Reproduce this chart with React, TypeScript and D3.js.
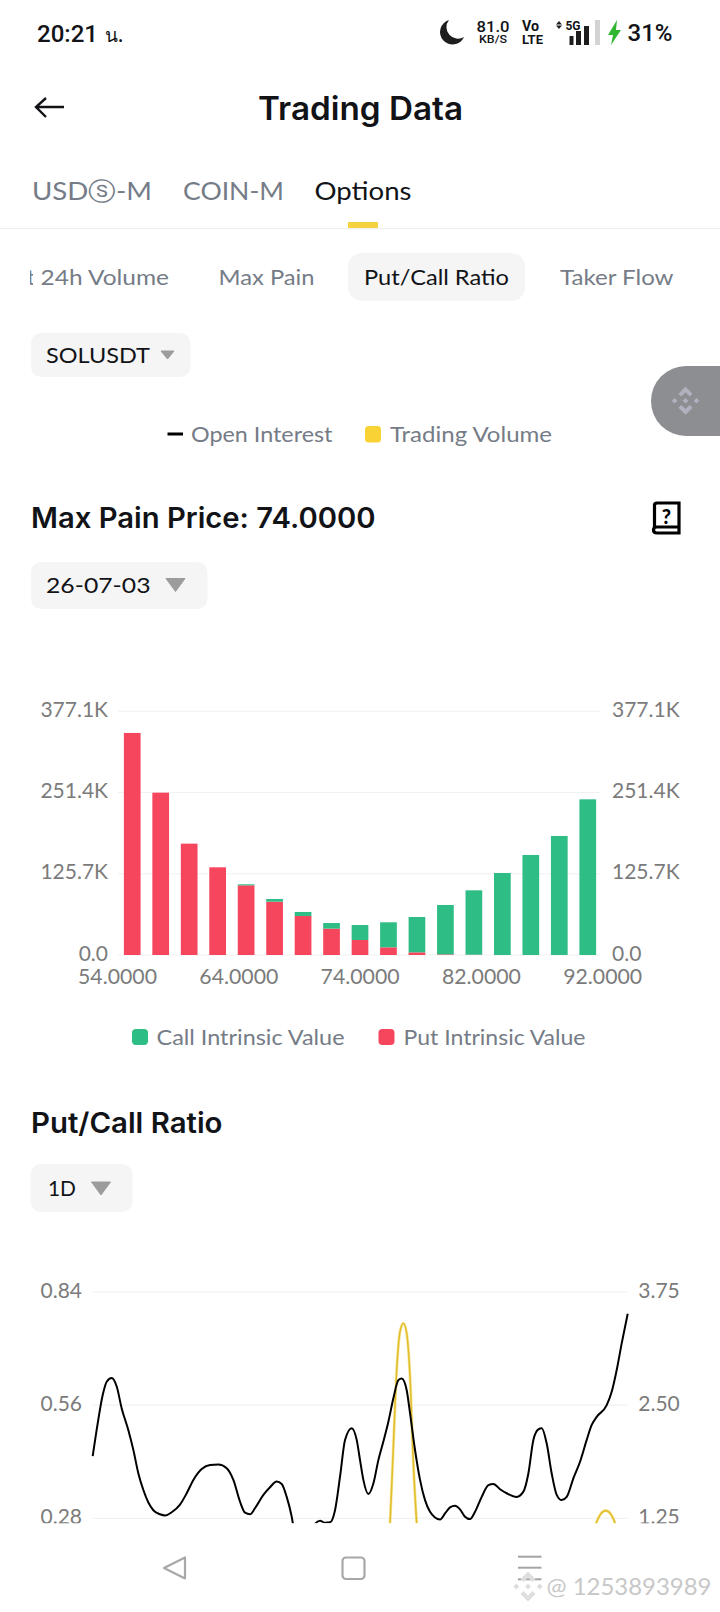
import React from "react";
import * as d3 from "d3";

const strikes = [54, 56, 58, 60, 64, 66, 68, 70, 74, 76, 78, 80, 82, 84, 86, 88, 92];
const putValues = [343.6, 251.2, 172.3, 135.7, 107.8, 82.5, 60.4, 40.8, 23.2, 11.9, 4.1, 1.0, 0.5, 0, 0, 0, 0];
const callValues = [0, 0, 0, 0, 1.6, 4.2, 6.2, 8.7, 23.2, 38.7, 54.7, 76.4, 99.6, 126.9, 154.8, 184.2, 240.9];
const xTickLabels = ["54.0000", "64.0000", "74.0000", "82.0000", "92.0000"];
const yTicksK = [0, 125.7, 251.4, 377.1];
const yTickLabelsK = ["0.0", "125.7K", "251.4K", "377.1K"];

const ratioTime = [0,15,30,42,57,72,87,107,122,137,152,167,182,202,217,237,262,282,302,327,352,377,402,422,442,457,472,487,512,532,552,567,582,597,607,622,642,667,682,697,712,727,742,757,777,792,802,812,827,842,857,872,887,902,917,927,942,952,967,982,997,1012,1027,1042,1057,1072,1087,1102,1117,1132,1147,1167,1187,1202,1222,1242,1272,1292,1307,1322,1337,1347,1362,1377,1392,1407,1422,1442,1462,1482,1497,1512,1542,1557,1572,1587,1605];
const ratioValues = [.434,.515,.585,.618,.627,.606,.552,.498,.449,.391,.350,.319,.300,.290,.287,.295,.314,.342,.375,.402,.412,.413,.404,.375,.321,.294,.290,.305,.338,.357,.371,.365,.333,.284,.234,.185,.193,.266,.274,.269,.270,.300,.383,.474,.503,.474,.424,.375,.340,.366,.424,.470,.519,.577,.622,.626,.597,.540,.449,.375,.325,.296,.282,.277,.292,.307,.311,.302,.284,.278,.296,.333,.362,.365,.352,.342,.333,.346,.391,.474,.500,.503,.465,.391,.338,.325,.333,.379,.420,.474,.511,.531,.560,.593,.647,.713,.786];
const volumeTime = [0,862,877,892,902,912,922,932,942,952,962,972,987,1002,1482,1510,1524,1539,1554,1567,1592,1605];
const volumeValues = [0,0,.495,1.195,2.042,2.888,3.312,3.404,3.293,2.815,1.857,1.195,.495,0,.8,1.195,1.298,1.335,1.298,1.195,.8,.5];
const ratioTicks = [0.28, 0.56, 0.84];
const ratioTickLabels = ["0.28", "0.56", "0.84"];
const volumeTicks = [1.25, 2.5, 3.75];
const volumeTickLabels = ["1.25", "2.50", "3.75"];

const GREEN = "#2EBD85";
const RED = "#F6465D";
const YELLOW = "#F0CE3C";
const GREY = "#757C87";
const AXIS = "#7B7B7B";
const INK = "#111317";
const PILL = "#F5F5F5";
const FONT = "Lato, 'Noto Sans', sans-serif";
const HEAD = "Inter, Lato, sans-serif";

type TP = { x: number; y: number; s: number; w?: number; c?: string; a?: string; len?: number; f?: string; children: React.ReactNode };
const T = ({ x, y, s, w = 400, c = INK, a = "start", len, f = FONT, children }: TP) => (
  <text x={x} y={y} fontSize={s} fontWeight={w} fill={c} textAnchor={a as any} fontFamily={f}
    {...(len ? { textLength: len, lengthAdjust: "spacingAndGlyphs" } : {})}>{children}</text>
);

const Tri = ({ x0, x1, y0, y1 }: { x0: number; x1: number; y0: number; y1: number }) => (
  <path d={`M${x0} ${y0}H${x1}L${(x0 + x1) / 2} ${y1}Z`} fill="#9C9C9C" stroke="#9C9C9C" strokeWidth={1} strokeLinejoin="round" />
);

const BLogo = ({ cx, cy, r, fill }: { cx: number; cy: number; r: number; fill: string }) => {
  const d = (x: number, y: number, q: number) => `M${x} ${y - q}L${x + q} ${y}L${x} ${y + q}L${x - q} ${y}Z`;
  const chev = (sg: number) => `M0 ${-1 * sg}L.5 ${-.5 * sg}L.3 ${-.3 * sg}L0 ${-.6 * sg}L-.3 ${-.3 * sg}L-.5 ${-.5 * sg}Z`;
  return (
    <g transform={`translate(${cx} ${cy}) scale(${r})`} fill={fill}>
      <path d={chev(1)} /><path d={chev(-1)} />
      <path d={d(0, 0, .2)} /><path d={d(-.78, 0, .2)} /><path d={d(.78, 0, .2)} />
    </g>
  );
};

export default function App() {
  const x1 = d3.scaleBand<number>().domain(strikes).range([118, 602]).paddingInner(0.413).paddingOuter(0.2065);
  const y1 = d3.scaleLinear().domain([0, 377.1]).range([955, 711.3]);
  const xl = d3.scalePoint<string>().domain(xTickLabels).range([117.5, 602.7]);
  const rows = strikes.map((s, i) => ({ strike: s, put: putValues[i], call: callValues[i] }));
  const stacked = d3.stack<any>().keys(["put", "call"])(rows);

  const tx = d3.scaleLinear().domain([0, 1605]).range([92.7, 627.7]);
  const yr = d3.scaleLinear().domain([0.28, 0.84]).range([1518.3, 1292]);
  const yv = d3.scaleLinear().domain([1.25, 3.75]).range([1518.3, 1292]);
  const ratioLine = d3.line<number>().x((_, i) => tx(ratioTime[i])).y(d => yr(d)).curve(d3.curveMonotoneX)(ratioValues) as string;
  const volumeLine = d3.line<number>().x((_, i) => tx(volumeTime[i])).y(d => yv(d)).curve(d3.curveMonotoneX)(volumeValues) as string;

  return (
    <svg width={720} height={1612} viewBox="0 0 720 1612" style={{ position: "absolute", left: 0, top: 0, display: "block", background: "#fff" }}>
      <defs>
        <clipPath id="c2"><rect x={85} y={1280} width={550} height={243.5} /></clipPath>
      </defs>
      {/* status bar */}
      <T x={37} y={42} s={23} w={500} len={61} f="Roboto, sans-serif">20:21</T>
      <T x={105} y={42} s={19} w={500} f="'Noto Sans', 'DejaVu Sans', sans-serif">น.</T>
      <path d="M449 20A12.5 12.5 0 1 0 464 37A11.5 11.5 0 0 1 449 20Z" fill="#1E1E1E" />
      <T x={476.5} y={31.5} s={15} w={500} len={33} f="Roboto, sans-serif">81.0</T>
      <T x={479} y={42.5} s={10} w={500} len={28} f="Roboto, sans-serif">KB/S</T>
      <T x={522} y={31} s={14} w={700} len={17} f="Roboto, sans-serif">Vo</T>
      <T x={522} y={43.5} s={12} w={700} len={21} f="Roboto, sans-serif">LTE</T>
      <path d="M559 21l-3 3.5h6ZM559 29l-3 -3.5h6Z" fill="#1E1E1E" />
      <T x={565.5} y={30} s={13} w={700} len={15} f="Roboto, sans-serif">5G</T>
      <g fill="#1E1E1E">
        <rect x={569.5} y={36} width={4} height={9} /><rect x={576} y={31} width={5} height={14} /><rect x={584} y={26} width={5} height={19} />
      </g>
      <rect x={595} y={20} width={5} height={25} fill="#D3D3D3" />
      <path d="M617 20L608 35H613L611 45L621 30H616Z" fill="#2FB52F" />
      <T x={627.5} y={41} s={23} w={500} len={45} f="Roboto, sans-serif">31%</T>

      {/* header */}
      <path d="M64 107H37M46 98L36 107L46 117" fill="none" stroke={INK} strokeWidth={2.4} />
      <T x={360.5} y={120} s={32} w={600} a="middle" len={205} f={HEAD}>Trading Data</T>
      <T x={32} y={200} s={25} c={GREY} len={120}>USDⓢ-M</T>
      <T x={183} y={200} s={25} c={GREY} len={101}>COIN-M</T>
      <T x={314.5} y={200} s={25} len={97}>Options</T>
      <rect x={348} y={222} width={30} height={6} fill="#F5D23F" />
      <line x1={0} x2={720} y1={228.7} y2={228.7} stroke="#ECECEC" />
      <clipPath id="cut"><rect x={30} y={260} width={3} height={30} /></clipPath>
      <g clipPath="url(#cut)"><T x={27} y={285} s={22} c={GREY}>t</T></g>
      <T x={40.5} y={285} s={22} c={GREY} len={128.5}>24h Volume</T>
      <T x={218.5} y={285} s={22} c={GREY} len={96}>Max Pain</T>
      <rect x={348} y={253} width={177} height={48} rx={14} fill={PILL} />
      <T x={364} y={285} s={22} len={145}>Put/Call Ratio</T>
      <T x={560} y={285} s={22} c={GREY} len={113.5}>Taker Flow</T>

      <rect x={31} y={333} width={159.5} height={44} rx={10} fill={PILL} />
      <T x={46} y={362.5} s={22} len={104}>SOLUSDT</T>
      <Tri x0={161} x1={174} y0={351} y1={359} />

      <path d="M720 366H686A35 35 0 0 0 686 436H720Z" fill="#8C8E91" />
      <BLogo cx={685.5} cy={400.7} r={14} fill="#B1B2BF" />

      <rect x={167.5} y={432.5} width={15.5} height={3} fill="#000" />
      <T x={191} y={441.5} s={22} c={GREY} len={141.5}>Open Interest</T>
      <rect x={365} y={426} width={16} height={16.5} rx={3.5} fill="#F9D336" />
      <T x={390} y={441.5} s={22} c={GREY} len={162}>Trading Volume</T>

      <T x={31} y={528} s={28} w={600} len={344.5} f={HEAD}>Max Pain Price: 74.0000</T>
      <g fill="none" stroke="#000" strokeWidth={3.2}>
        <path d="M654.5 527V505Q654.5 503 657 503H679V533H657Q653.5 533 653.5 530Q653.5 527 657 527H679" />
      </g>
      <T x={666.5} y={523.5} s={20} w={900} a="middle" c="#000">?</T>

      <rect x={31} y={562} width={176.5} height={47} rx={10} fill={PILL} />
      <T x={46} y={592.5} s={22} len={104.5}>26-07-03</T>
      <Tri x0={166} x1={185} y0={578.5} y1={591.5} />

      {/* chart 1 */}
      {yTicksK.map((t, i) => (
        <g key={t}>
          <line x1={118} x2={600.7} y1={y1(t)} y2={y1(t)} stroke="#F1F1F1" />
          <T x={108} y={y1(t) + 5.5} s={21} c={AXIS} a="end">{yTickLabelsK[i]}</T>
          <T x={612} y={y1(t) + 5.5} s={21} c={AXIS}>{yTickLabelsK[i]}</T>
        </g>
      ))}
      {stacked.map((layer: any) => (
        <g key={layer.key} fill={layer.key === "put" ? RED : GREEN}>
          {layer.map((d: any, i: number) => (
            <rect key={i} x={x1(strikes[i])} width={x1.bandwidth()} y={y1(d[1])} height={Math.max(0, y1(d[0]) - y1(d[1]))} />
          ))}
        </g>
      ))}
      {xTickLabels.map(l => <T key={l} x={xl(l) as number} y={984} s={21} c={AXIS} a="middle" len={79}>{l}</T>)}

      <rect x={132} y={1029} width={16} height={16} rx={4} fill={GREEN} />
      <T x={156.5} y={1045} s={22} c={GREY} len={188}>Call Intrinsic Value</T>
      <rect x={378.5} y={1029} width={16} height={16} rx={4} fill={RED} />
      <T x={403.5} y={1045} s={22} c={GREY} len={182}>Put Intrinsic Value</T>

      <T x={31} y={1132.5} s={28} w={600} len={191.5} f={HEAD}>Put/Call Ratio</T>
      <rect x={30.5} y={1164} width={102} height={48} rx={11} fill={PILL} />
      <T x={48} y={1196} s={22} len={28}>1D</T>
      <Tri x0={91.5} x1={110.5} y0={1182} y1={1195} />

      {/* chart 2 */}
      {ratioTicks.map((t, i) => (
        <g key={t}>
          <line x1={92.7} x2={627.7} y1={yr(t)} y2={yr(t)} stroke="#F1F1F1" strokeWidth={1.2} />
          <T x={82} y={yr(t) + 6} s={21} c={AXIS} a="end">{ratioTickLabels[i]}</T>
        </g>
      ))}
      {volumeTicks.map((t, i) => <T key={t} x={638.3} y={yv(t) + 6} s={21} c={AXIS}>{volumeTickLabels[i]}</T>)}
      <g clipPath="url(#c2)" fill="none" strokeLinejoin="round">
        <path d={volumeLine} stroke={YELLOW} strokeOpacity={0.45} strokeWidth={3} />
        <path d={volumeLine} stroke="#E3BE2C" strokeWidth={1.6} />
        <path d={ratioLine} stroke="#000" strokeWidth={2} />
      </g>

      {/* nav bar */}
      <rect x={0} y={1523.3} width={720} height={89} fill="#fff" />
      <g fill="none" stroke="#A8A8A8" strokeWidth={2.2} strokeLinejoin="round">
        <path d="M185 1557.5V1578.5L164 1568Z" />
        <rect x={342.5} y={1557.5} width={22} height={21.5} rx={3.5} />
      </g>
      <g stroke="#A4A4A4" strokeWidth={2}>
        <line x1={518} x2={541.5} y1={1556.7} y2={1556.7} />
        <line x1={518} x2={541.5} y1={1567.7} y2={1567.7} />
        <line x1={518} x2={541.5} y1={1579.3} y2={1579.3} />
      </g>
      <BLogo cx={528} cy={1586.5} r={15} fill="#DEDEDE" />
      <T x={546.5} y={1595} s={23} c="#C8C8C8" len={165}>@ 1253893989</T>
    </svg>
  );
}
